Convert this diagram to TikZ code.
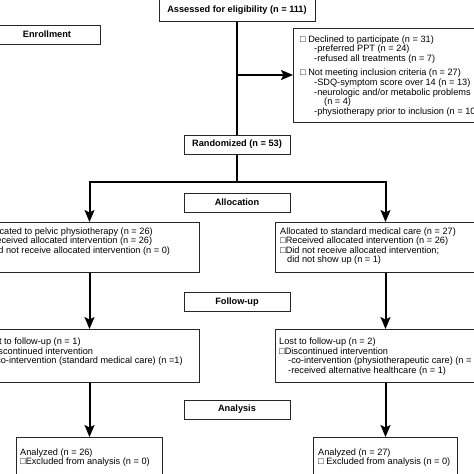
\documentclass[tikz,border=0pt]{standalone}
\usepackage{fontspec}
\setmainfont{Liberation Sans}
\usetikzlibrary{arrows.meta,calc}
\begin{document}
\begin{tikzpicture}[x=1pt,y=-1pt,
  box/.style={draw=black!85, line width=1pt, inner sep=0pt, anchor=north west},
  lbl/.style={draw=black!85, line width=1pt, font=\bfseries\fontsize{9.2}{9.4}\selectfont, minimum width=106pt, minimum height=19pt, inner sep=0pt},
  txt/.style={anchor=north west, inner sep=0pt, align=left, font=\fontsize{9.2}{9.4}\selectfont},
  arr/.style={line width=2pt, -{Stealth[length=12pt,width=10pt,inset=2.5pt]}},
  ln/.style={line width=2pt}]
\useasboundingbox (0,0) rectangle (474,474);
\clip (0,0) rectangle (474,474);
% header boxes
\node[lbl, minimum width=156pt, minimum height=22pt] (assess) at (237,10) {Assessed for eligibility (n = 111)};
\node[lbl] (enroll) at (47,34.5) {Enrollment};
\node[lbl] (rand) at (237,144.5) {Randomized (n = 53)};
\node[lbl] (alloc) at (237,202.5) {Allocation};
\node[lbl] (follow) at (237,302) {Follow-up};
\node[lbl] (analysis) at (237,409.5) {Analysis};
% exclusion
\node[box, minimum width=200pt, minimum height=94pt] (excl) at (293,28) {};
\node[txt, font=\fontsize{9.2}{9.7}\selectfont] (excltxt) at ($(excl.north west)+(7,7.2)$) {%
□ Declined to participate (n = 31)\\
\hspace*{14pt}-preferred PPT (n = 24)\\
\hspace*{14pt}-refused all treatments (n = 7)\\[4.5pt]
□ Not meeting inclusion criteria (n = 27)\\
\hspace*{14pt}-SDQ-symptom score over 14 (n = 13)\\
\hspace*{14pt}-neurologic and/or metabolic problems\\
\hspace*{24pt}(n = 4)\\
\hspace*{14pt}-physiotherapy prior to inclusion (n = 10)};
% allocation boxes
\node[box, minimum width=220pt, minimum height=50pt] (la) at (-21,222) {};
\node[txt] (latxt) at ($(la.north west)+(5,5.5)$) {%
Allocated to pelvic physiotherapy (n = 26)\\
□Received allocated intervention (n = 26)\\
□Did not receive allocated intervention (n = 0)};
\node[box, minimum width=220pt, minimum height=50pt] (ra) at (275,222) {};
\node[txt] (ratxt) at ($(ra.north west)+(5,5.5)$) {%
Allocated to standard medical care (n = 27)\\
□Received allocated intervention (n = 26)\\
□Did not receive allocated intervention;\\
\hspace*{7pt}did not show up (n = 1)};
% follow-up boxes
\node[box, minimum width=220pt, minimum height=53pt] (ll) at (-21,329) {};
\node[txt] (lltxt) at ($(ll.north west)+(5,9)$) {%
Lost to follow-up (n = 1)\\
□Discontinued intervention\\
\hspace*{9pt}-co-intervention (standard medical care) (n =1)};
\node[box, minimum width=220pt, minimum height=53pt] (rl) at (275,329) {};
\node[txt] (rltxt) at ($(rl.north west)+(4,9)$) {%
Lost to follow-up (n = 2)\\
□Discontinued intervention\\
\hspace*{9pt}-co-intervention (physiotherapeutic care) (n = 1)\\
\hspace*{9pt}-received alternative healthcare (n = 1)};
% analysis boxes
\node[box, minimum width=146pt, minimum height=45pt] (lz) at (16,437) {};
\node[txt] (lztxt) at ($(lz.north west)+(4,11.5)$) {%
Analyzed (n = 26)\\
□Excluded from analysis (n = 0)};
\node[box, minimum width=144pt, minimum height=45pt] (rz) at (313,437) {};
\node[txt] (rztxt) at ($(rz.north west)+(5,11.5)$) {%
Analyzed (n = 27)\\
□ Excluded from analysis (n = 0)};
% connectors
\coordinate (br) at (237,75);
\coordinate (split) at (237,182);
\draw[ln] (assess.south) -- (rand.north);
\draw[arr] (br) -- (br -| excl.west);
\draw[ln] (rand.south) -- (split);
\draw[arr] (split) -| (la.north);
\draw[arr] (split) -| (ra.north);
\draw[arr] (la.south) -- (ll.north);
\draw[arr] (ra.south) -- (rl.north);
\draw[arr] (ll.south) -- (lz.north);
\draw[arr] (rl.south) -- (rz.north);
\end{tikzpicture}
\end{document}
